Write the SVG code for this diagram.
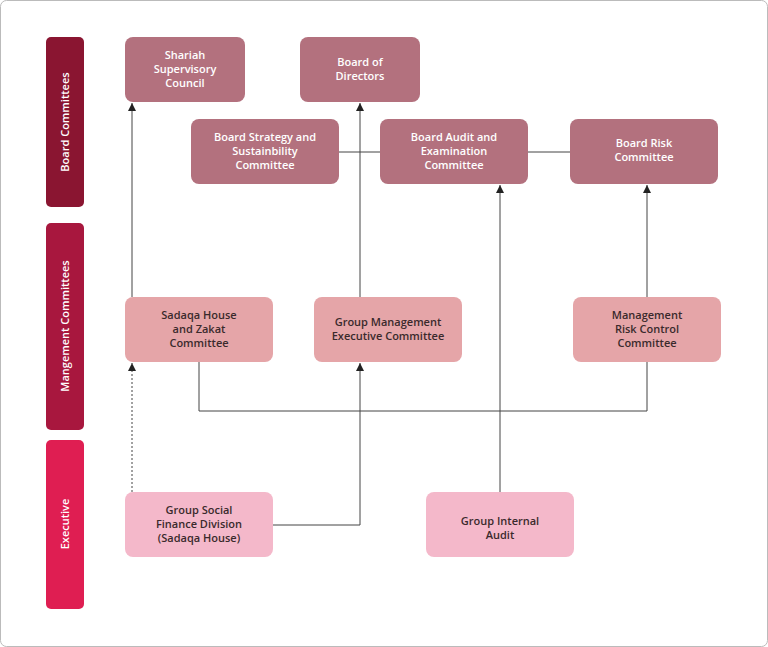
<svg xmlns="http://www.w3.org/2000/svg" width="768" height="647" viewBox="0 0 768 647">
<style>
text{font-family:"Open Sans","Liberation Sans",sans-serif;font-size:11px;font-weight:600;text-anchor:middle}
.b rect{fill:#b3717e}.b text{fill:#fff}
.m rect{fill:#e5a5a8}.m text{fill:#3a2a2c}
.e rect{fill:#f4b8ca}.e text{fill:#3a2a2c}
.side text{fill:#fff;font-size:11px}
#connectors path{fill:none;stroke:#444;stroke-width:1}
</style>
<defs><marker id="a" viewBox="0 0 8 8" refX="8" refY="4" markerWidth="8" markerHeight="8" orient="auto" markerUnits="userSpaceOnUse"><path d="M0,0 L8,4 L0,8 Z" fill="#222"/></marker></defs>
<rect x="0.5" y="0.5" width="767" height="646" rx="6" fill="#fff" stroke="#bbb"/>
<g class="side" id="lanes">
<rect x="46" y="37" width="38" height="170" rx="5" fill="#8a1531"/>
<text transform="translate(69,122) rotate(-90)">Board Committees</text>
<rect x="46" y="223" width="38" height="207" rx="5" fill="#a8173e"/>
<text transform="translate(69,326) rotate(-90)">Mangement Committees</text>
<rect x="46" y="440" width="38" height="169" rx="5" fill="#df1e52"/>
<text transform="translate(69,524) rotate(-90)">Executive</text>
</g>
<g id="connectors">
<path d="M132,297 V103" marker-end="url(#a)"/>
<path d="M360,297 V103" marker-end="url(#a)"/>
<path d="M339,152 H380 M528,152 H570"/>
<path d="M500,492 V185" marker-end="url(#a)"/>
<path d="M647,297 V185" marker-end="url(#a)"/>
<path d="M199,362 V411 H647 V362"/>
<path d="M273,525 H360 V363" marker-end="url(#a)"/>
<path d="M132,492 V363" stroke-dasharray="2,2" marker-end="url(#a)"/>
</g>
<g id="shariah" class="b"><rect x="125" y="37" width="120" height="65" rx="8"/><text x="185" y="59">Shariah</text><text x="185" y="73">Supervisory</text><text x="185" y="87">Council</text></g>
<g id="bod" class="b"><rect x="300" y="37" width="120" height="65" rx="8"/><text x="360" y="66">Board of</text><text x="360" y="80">Directors</text></g>
<g id="bsc" class="b"><rect x="191" y="119" width="148" height="65" rx="8"/><text x="265" y="141">Board Strategy and</text><text x="265" y="155">Sustainbility</text><text x="265" y="169">Committee</text></g>
<g id="bac" class="b"><rect x="380" y="119" width="148" height="65" rx="8"/><text x="454" y="141">Board Audit and</text><text x="454" y="155">Examination</text><text x="454" y="169">Committee</text></g>
<g id="brc" class="b"><rect x="570" y="119" width="148" height="65" rx="8"/><text x="644" y="147">Board Risk</text><text x="644" y="161">Committee</text></g>
<g id="shzc" class="m"><rect x="125" y="297" width="148" height="65" rx="8"/><text x="199" y="319">Sadaqa House</text><text x="199" y="333">and Zakat</text><text x="199" y="347">Committee</text></g>
<g id="gmec" class="m"><rect x="314" y="297" width="148" height="65" rx="8"/><text x="388" y="326">Group Management</text><text x="388" y="340">Executive Committee</text></g>
<g id="mrcc" class="m"><rect x="573" y="297" width="148" height="65" rx="8"/><text x="647" y="319">Management</text><text x="647" y="333">Risk Control</text><text x="647" y="347">Committee</text></g>
<g id="gsfd" class="e"><rect x="125" y="492" width="148" height="65" rx="8"/><text x="199" y="514">Group Social</text><text x="199" y="528">Finance Division</text><text x="199" y="542">(Sadaqa House)</text></g>
<g id="gia" class="e"><rect x="426" y="492" width="148" height="65" rx="8"/><text x="500" y="525">Group Internal</text><text x="500" y="539">Audit</text></g>
</svg>
